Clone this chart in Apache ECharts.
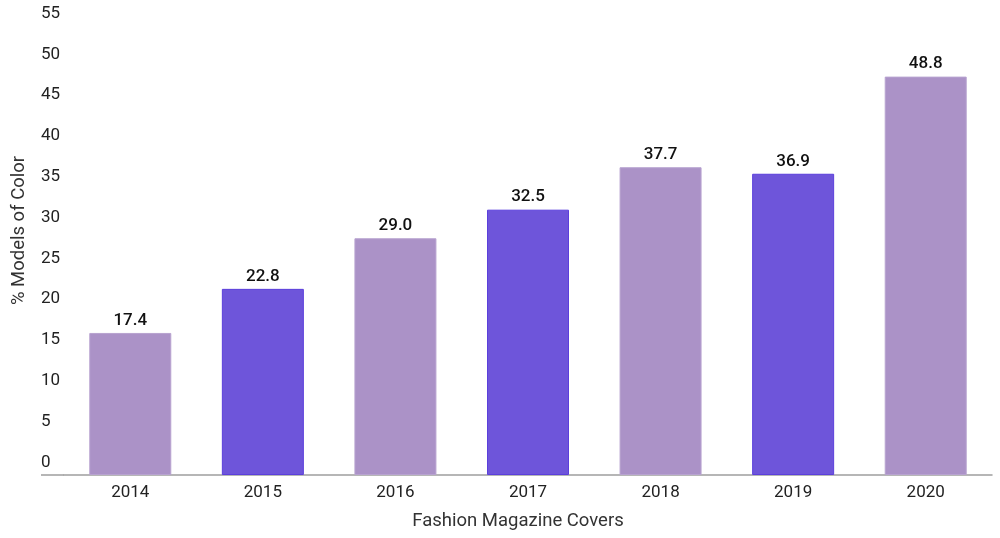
<!DOCTYPE html>
<html>
<head>
<meta charset="utf-8">
<script src="https://cdn.jsdelivr.net/npm/echarts@6/dist/echarts.min.js"></script>
<style>html,body{margin:0;padding:0;background:#fff;}#c{width:1000px;height:538px;}</style>
</head>
<body>
<div id="c"></div>
<script>
const categories = ['2014', '2015', '2016', '2017', '2018', '2019', '2020'];
const values = [17.4, 22.8, 29.0, 32.5, 37.7, 36.9, 48.8];
const barColors = ['#ab92c7', '#6e55da', '#ab92c7', '#6e55da', '#ab92c7', '#6e55da', '#ab92c7'];
const borderColors = ['#b8a3d0', '#5b3fdc', '#b8a3d0', '#5b3fdc', '#b8a3d0', '#5b3fdc', '#b8a3d0'];

const chart = echarts.init(document.getElementById('c'), null, {renderer: 'canvas'});
const font = 'Roboto, "Noto Sans", sans-serif';
chart.setOption({
  animation: false,
  textStyle: {fontFamily: font},
  grid: {left: 64, right: 8, top: 26, bottom: 63, containLabel: false},
  graphic: [{
    type: 'line', z: 10,
    shape: {x1: 41, y1: 475, x2: 64, y2: 475},
    style: {stroke: '#9e9e9e', lineWidth: 1.5}
  }],
  xAxis: {
    type: 'category',
    data: categories,
    name: 'Fashion Magazine Covers',
    nameLocation: 'middle',
    nameGap: 37,
    nameTextStyle: {fontSize: 18.5, color: '#333', fontFamily: font, padding: [0, 20, 0, 0]},
    axisLine: {show: true, lineStyle: {color: '#9e9e9e', width: 1.5}},
    axisTick: {show: false},
    axisLabel: {fontSize: 17, color: '#222', margin: 9, fontFamily: font}
  },
  yAxis: {
    type: 'value',
    min: 0, max: 55, interval: 5,
    name: '% Models of Color',
    nameLocation: 'middle',
    nameGap: 35,
    nameRotate: 90,
    nameTextStyle: {fontSize: 18.5, color: '#333', fontFamily: font, padding: [0, 0, 0, 40]},
    axisLine: {show: false},
    axisTick: {show: false},
    splitLine: {show: false},
    axisLabel: {
      fontSize: 17, color: '#222', fontFamily: font,
      align: 'left', margin: 23,
      verticalAlign: 'bottom', padding: [0, 0, 4, 0]
    }
  },
  series: [{
    type: 'bar',
    barWidth: 82,
    data: values.map((v, i) => ({
      value: v,
      itemStyle: {color: barColors[i], borderColor: borderColors[i], borderWidth: 1}
    })),
    label: {
      show: true, position: 'top', distance: 4,
      fontSize: 17, fontWeight: 500, color: '#111', fontFamily: font,
      formatter: p => p.value.toFixed(1)
    }
  }]
});
</script>
</body>
</html>
